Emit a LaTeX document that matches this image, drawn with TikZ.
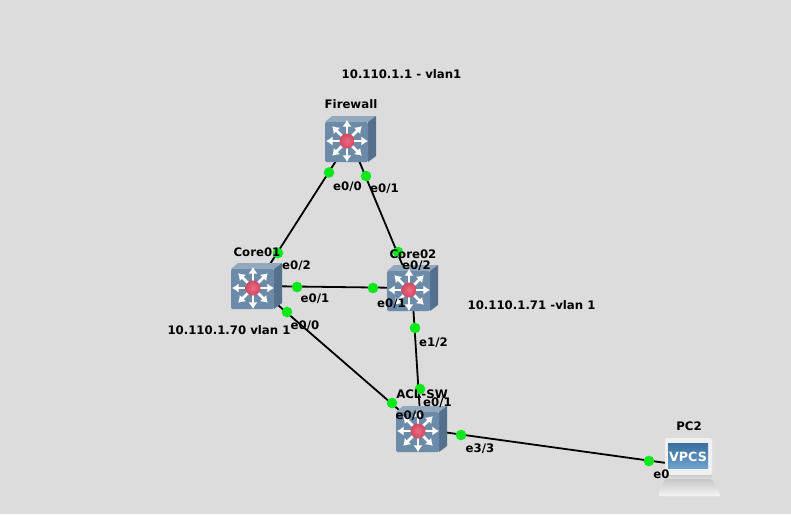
\documentclass[tikz,border=0pt]{standalone}
\usepackage{fontspec}
\setmainfont{DejaVu Sans}
\definecolor{bgcol}{HTML}{DCDCDC}
\definecolor{swfront}{HTML}{6C8BA9}
\definecolor{swtop}{HTML}{93A8BD}
\definecolor{swside}{HTML}{53708C}
\definecolor{swred}{HTML}{E8506C}
\definecolor{portcol}{HTML}{0CE81C}
\definecolor{scrtop}{HTML}{3A6E9E}
\definecolor{scrbot}{HTML}{6CA2CC}
\tikzset{
  port/.style={circle,fill=portcol,inner sep=0pt,minimum size=8pt},
  lbl/.style={font=\bfseries\fontsize{8.8}{10}\selectfont,inner sep=0pt},
  dev/.style={inner sep=0pt,minimum size=1pt},
  link/.style={draw=black,line width=1.35pt},
  rayarrow/.style={white,line width=2pt,-{Latex[length=5pt,width=7pt]}},
  pics/switchicon/.style={code={
    % offsets are from the middle of the whole icon
    \fill[swtop] (-25,-17) -- (-18,-23) -- (26,-23) -- (18,-17) -- cycle;
    \fill[swside] (18,-17) -- (26,-23) -- (26,17) -- (18,23) -- cycle;
    \fill[swfront,rounded corners=1pt] (-25,-17) rectangle (18,23);
    \foreach \ang in {0,45,...,315}
      \draw[rayarrow] (-3,2) ++(\ang:6) -- ++(\ang:15);
    \shade[inner color=swred!85!white,outer color=swred!90!black] (-3,2) circle (7.5);
  }},
}
\usetikzlibrary{arrows.meta}
\begin{document}
\begin{tikzpicture}[x=0.75pt,y=-0.75pt]

\fill[bgcol] (0,0) rectangle (791,514);
\useasboundingbox (0,0) rectangle (791,514);

% devices
\node[dev] (FW) at (350,139) {};
\node[dev] (C1) at (256,286) {};
\node[dev] (C2) at (412,288) {};
\node[dev] (ACL) at (421,429) {};
\node[dev] (PC) at (688,466) {};

% links
\draw[link] (FW) -- (C1);
\draw[link] (FW) -- (C2);
\draw[link] (C1) -- (C2);
\draw[link] (C1) -- (ACL);
\draw[link] (C2) -- (ACL);
\draw[link] (ACL) -- (PC);

\pic at (FW) {switchicon};
\pic at (C1) {switchicon};
\pic at (C2) {switchicon};
\pic at (ACL) {switchicon};

% pc
\fill[white!88!gray,rounded corners=1.5pt] (665,438) rectangle (712,475);
\shade[top color=white!60!gray,bottom color=white!80!gray] (665,475) rectangle (712,480);
\shade[top color=white!55!gray,bottom color=white!92!gray,rounded corners=1.5pt]
  (665,479) -- (712,479) -- (721,496) -- (658,496) -- cycle;
\shade[top color=scrtop,bottom color=scrbot] (668,443) rectangle (708,468);
\node[font=\bfseries\fontsize{9.5}{10}\selectfont,text=white,inner sep=0pt] (VP) at (688,457) {VPCS};

% ports
\node[port] (P1) at (329,172.5) {};
\node[port] (P2) at (278,253) {};
\node[port] (P3) at (366,176) {};
\node[port] (P4) at (398,252) {};
\node[port] (P5) at (297,287) {};
\node[port] (P6) at (373,288) {};
\node[port] (P7) at (287,312) {};
\node[port] (P8) at (392,403) {};
\node[port] (P9) at (415,328) {};
\node[port] (P10) at (420,389) {};
\node[port] (P11) at (461,435) {};
\node[port] (P12) at (649,461) {};

% labels
\node[lbl] (t1) at (401.5,74) {10.110.1.1 - vlan1};
\node[lbl] (t2) at (351,104) {Firewall};
\node[lbl] (t3) at (347.5,186.5) {e0/0};
\node[lbl] (t4) at (384.5,189) {e0/1};
\node[lbl] (t5) at (257,252) {Core01};
\node[lbl] (t6) at (296.5,265.5) {e0/2};
\node[lbl] (t7) at (413,254) {Core02};
\node[lbl] (t8) at (416.5,265.5) {e0/2};
\node[lbl] (t9) at (315,298.5) {e0/1};
\node[lbl] (t10) at (391.5,303.5) {e0/1};
\node[lbl] (t11) at (531.5,305) {10.110.1.71 -vlan 1};
\node[lbl] (t12) at (229,330) {10.110.1.70 vlan 1};
\node[lbl] (t13) at (305,326) {e0/0};
\node[lbl] (t14) at (433.5,342.5) {e1/2};
\node[lbl] (t15) at (422,394) {ACL-SW};
\node[lbl] (t16) at (437.5,403) {e0/1};
\node[lbl] (t17) at (410,415.5) {e0/0};
\node[lbl] (t18) at (480,448.5) {e3/3};
\node[lbl] (t19) at (689,426) {PC2};
\node[lbl] (t20) at (661.5,474) {e0};

\end{tikzpicture}
\end{document}
